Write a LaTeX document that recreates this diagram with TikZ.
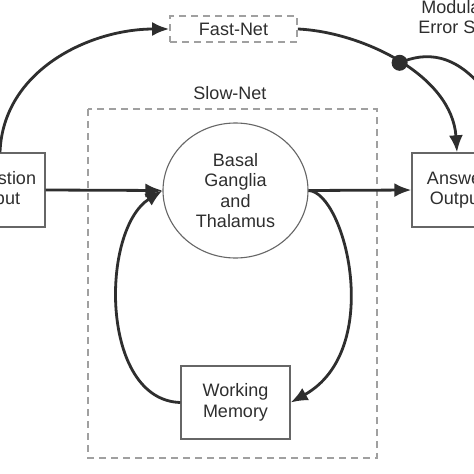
\documentclass[tikz,border=0pt]{standalone}
\usepackage{fontspec}
\setmainfont{Liberation Sans}
\usetikzlibrary{arrows.meta,shapes.geometric}

\definecolor{inkdark}{HTML}{2E2E2E}
\definecolor{boxgray}{HTML}{666666}
\definecolor{dashgray}{HTML}{A0A0A0}

\tikzset{
	unitbox/.style={draw=boxgray,line width=1.4pt,minimum width=90pt,minimum height=74pt,inner sep=0pt,align=center,text=inkdark},
	netbox/.style={draw=dashgray,line width=1.7pt,dash pattern={on 7pt off 5pt}},
	flow/.style={draw=inkdark,line width=2.8pt,-{Latex[length=17pt,width=14pt]}},
	plainflow/.style={draw=inkdark,line width=2.8pt},
}

\begin{document}
\begin{tikzpicture}[x=1pt,y=1pt,yscale=-1,xscale=1,font=\fontsize{18}{20.5}\selectfont]
	\useasboundingbox (0,0) rectangle (474,474);
	\clip (0,0) rectangle (474,474);
	\fill[white] (0,0) rectangle (474,474);
	
	%Shape: Rectangle [id:slownet] 
	\draw [netbox] (88,109) rectangle (377,458) ;
	% Text Node
	\node (slowlabel) at (230,93) [inner sep=0.75pt,text=inkdark] {Slow-Net};
	
	% Text Node
	\node (fastnet) at (233.5,29) [netbox,minimum width=127pt,minimum height=26pt,inner sep=0pt,text=inkdark] {Fast-Net};
	% Text Node
	\node (question) at (0,190) [unitbox] {Question\\Input};
	% Text Node
	\node (answer) at (457,190) [unitbox] {Answer\\Output};
	% Text Node
	\node (working) at (235.5,402.5) [unitbox,minimum width=109pt,minimum height=73pt] {Working\\Memory};
	% Text Node
	\node (ganglia) at (235.5,190.5) [ellipse,draw=boxgray,line width=1.1pt,minimum width=145pt,minimum height=135pt,inner sep=0pt,align=center,text=inkdark] {Basal\\Ganglia\\and\\Thalamus};
	% Text Node
	\node (modsignal) at (466,19) [align=center,inner sep=0.75pt,text=inkdark] {Modulatory\\Error Signal};
	
	%Curve Lines [id:fastin] 
	\draw [flow] (question.north) .. controls (3,70) and (90,29) .. (fastnet.west) ;
	%Curve Lines [id:fastout] 
	\draw [flow] (fastnet.east) .. controls (362,32) and (452,75) .. coordinate[pos=0.5] (join) (answer.north) ;
	%Curve Lines [id:modline] 
	\coordinate (modsrc) at (486,92);
	\draw [plainflow] (modsrc) .. controls (455,52) and (425,52) .. (join) ;
	\fill [inkdark] (join) circle (8pt) ;
	
	%Straight Lines [id:qin] 
	\draw [flow] (question.east) -- (ganglia.west) ;
	%Straight Lines [id:aout] 
	\draw [flow] (ganglia.east) -- (answer.west) ;
	%Curve Lines [id:towm] 
	\draw [flow] (ganglia.east) .. controls (345,192) and (385,350) .. (working.east) ;
	%Curve Lines [id:fromwm] 
	\draw [flow] (working.west) .. controls (100,400) and (100,230) .. (ganglia.west) ;
	
\end{tikzpicture}
\end{document}
